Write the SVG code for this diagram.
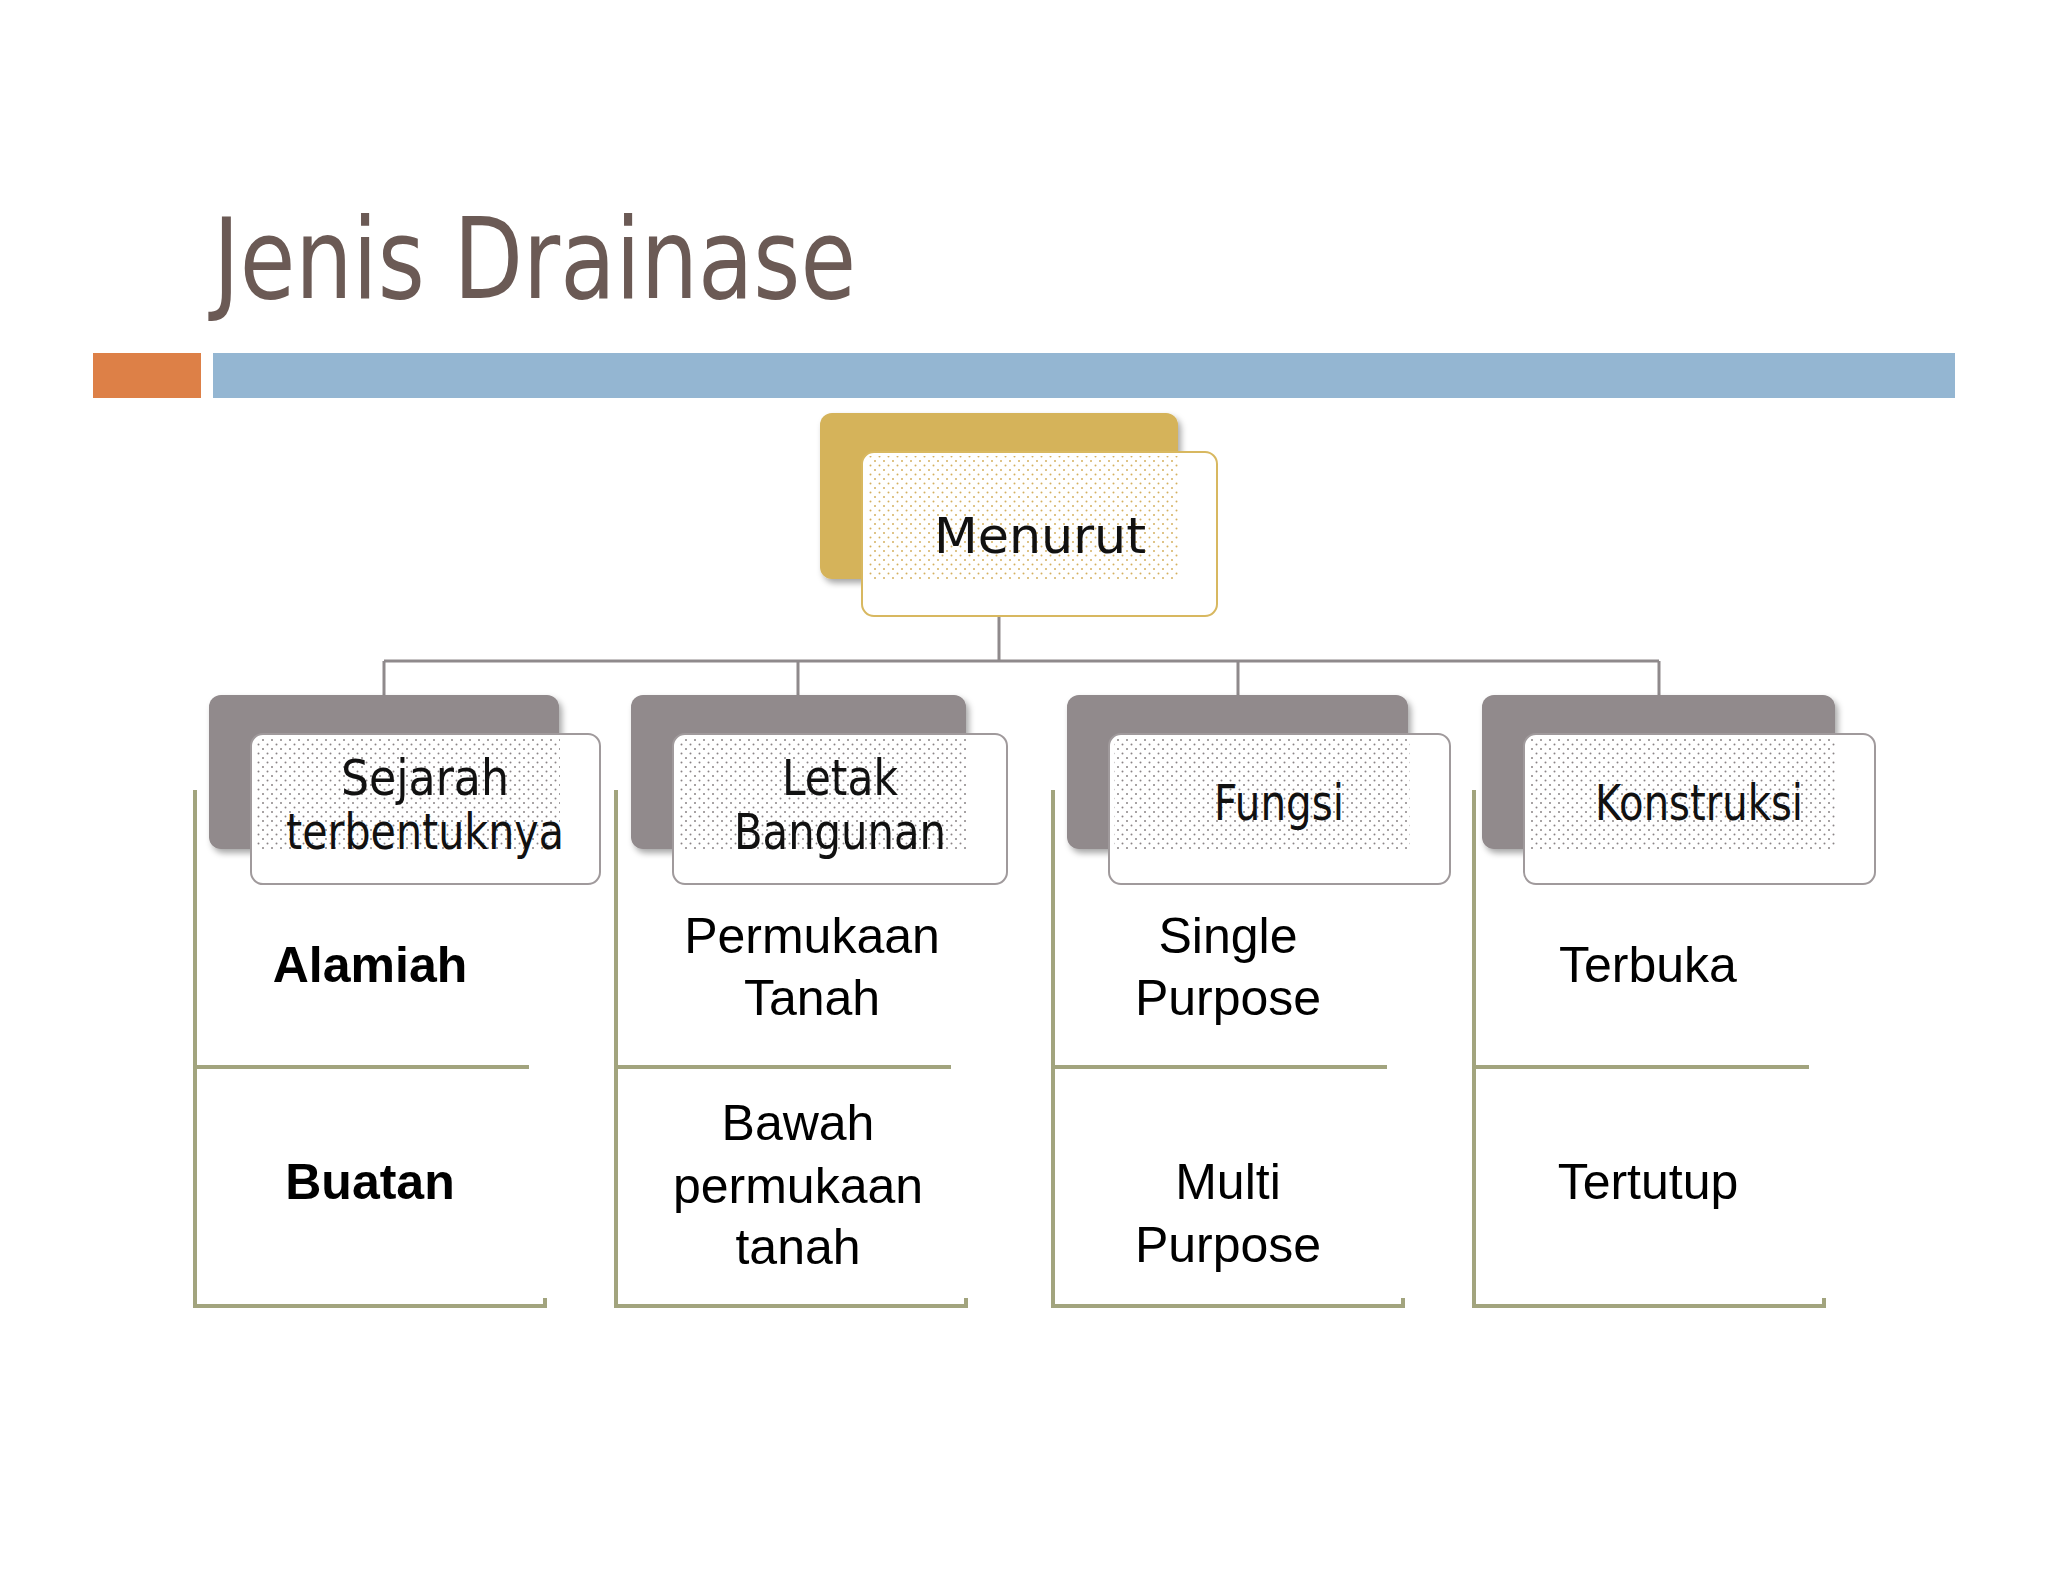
<svg xmlns="http://www.w3.org/2000/svg" width="2048" height="1582" viewBox="0 0 2048 1582">
<defs>
<pattern id="dg" width="9" height="9" patternUnits="userSpaceOnUse"><circle cx="2" cy="2" r="1" fill="#8a8486"/><circle cx="6.5" cy="6.5" r="1" fill="#8a8486"/></pattern>
<pattern id="dy" width="9" height="9" patternUnits="userSpaceOnUse"><circle cx="2" cy="2" r="1" fill="#d4b060"/><circle cx="6.5" cy="6.5" r="1" fill="#d4b060"/></pattern>
<filter id="sh" x="-10%" y="-10%" width="130%" height="130%"><feDropShadow dx="3" dy="4" stdDeviation="3" flood-opacity="0.35"/></filter>
</defs>
<style>
.back{fill:#918a8c;filter:url(#sh)}
.front{fill:#fff;stroke:#a09a9c;stroke-width:2}
.lbl{font-family:"DejaVu Sans Condensed","DejaVu Sans",sans-serif;font-stretch:condensed;font-size:50px;fill:#111;text-anchor:middle}
.leaf{font-family:"Liberation Sans",Arial,sans-serif;font-size:50px;fill:#000;text-anchor:middle}
.b{font-weight:bold}
.br{fill:none;stroke:#a2a47e;stroke-width:4}
.con{fill:none;stroke:#8f8a8c;stroke-width:3}
</style>
<rect width="2048" height="1582" fill="#fff"/>
<text x="213" y="298" font-family="DejaVu Sans Condensed,DejaVu Sans,sans-serif" font-stretch="condensed" font-size="112" fill="#6b5a55" textLength="643" lengthAdjust="spacingAndGlyphs">Jenis Drainase</text>
<rect x="93" y="353" width="108" height="45" fill="#dd8047"/>
<rect x="213" y="353" width="1742" height="45" fill="#94b6d2"/>
<g id="connectors">
<path class="con" d="M999 616V661M384 661H1659M384 661V695M798 661V695M1238 661V695M1659 661V695"/>
</g>
<g id="menurut">
<rect x="820" y="413" width="358" height="166" rx="12" fill="#d5b35a" filter="url(#sh)"/>
<rect x="862" y="452" width="355" height="164" rx="12" fill="#fff" stroke="#d8b860" stroke-width="2"/>
<rect x="868" y="456" width="310" height="124" fill="url(#dy)"/>
<text x="1040" y="553" class="lbl" font-size="66" textLength="212" lengthAdjust="spacingAndGlyphs">Menurut</text>
</g>
<g id="sejarah">
<rect class="back" x="209" y="695" width="350" height="154" rx="12"/>
<rect class="front" x="251" y="734" width="349" height="150" rx="12"/>
<rect x="256" y="738" width="304" height="112" fill="url(#dg)"/>
<text class="lbl" x="425" y="795" font-size="48" textLength="168" lengthAdjust="spacingAndGlyphs">Sejarah</text>
<text class="lbl" x="425" y="849" font-size="48" textLength="278" lengthAdjust="spacingAndGlyphs">terbentuknya</text>
</g>
<g id="letak">
<rect class="back" x="631" y="695" width="335" height="154" rx="12"/>
<rect class="front" x="673" y="734" width="334" height="150" rx="12"/>
<rect x="678" y="738" width="290" height="112" fill="url(#dg)"/>
<text class="lbl" x="840" y="795" font-size="48" textLength="116" lengthAdjust="spacingAndGlyphs">Letak</text>
<text class="lbl" x="840" y="849" font-size="48" textLength="212" lengthAdjust="spacingAndGlyphs">Bangunan</text>
</g>
<g id="fungsi">
<rect class="back" x="1067" y="695" width="341" height="154" rx="12"/>
<rect class="front" x="1109" y="734" width="341" height="150" rx="12"/>
<rect x="1114" y="738" width="296" height="112" fill="url(#dg)"/>
<text class="lbl" x="1279" y="820" textLength="130" lengthAdjust="spacingAndGlyphs">Fungsi</text>
</g>
<g id="konstruksi">
<rect class="back" x="1482" y="695" width="353" height="154" rx="12"/>
<rect class="front" x="1524" y="734" width="351" height="150" rx="12"/>
<rect x="1529" y="738" width="306" height="112" fill="url(#dg)"/>
<text class="lbl" x="1699" y="820" textLength="208" lengthAdjust="spacingAndGlyphs">Konstruksi</text>
</g>
<g id="brackets">
<path class="br" d="M195 790V1306H545V1298M195 1067H529"/>
<path class="br" d="M616 790V1306H966V1298M616 1067H951"/>
<path class="br" d="M1053 790V1306H1403V1298M1053 1067H1387"/>
<path class="br" d="M1474 790V1306H1824V1298M1474 1067H1809"/>
</g>
<g id="leaves">
<text class="leaf b" x="370" y="982">Alamiah</text>
<text class="leaf b" x="370" y="1199">Buatan</text>
<text class="leaf" x="812" y="953">Permukaan</text>
<text class="leaf" x="812" y="1015">Tanah</text>
<text class="leaf" x="798" y="1140">Bawah</text>
<text class="leaf" x="798" y="1203">permukaan</text>
<text class="leaf" x="798" y="1264">tanah</text>
<text class="leaf" x="1228" y="953">Single</text>
<text class="leaf" x="1228" y="1015">Purpose</text>
<text class="leaf" x="1228" y="1199">Multi</text>
<text class="leaf" x="1228" y="1262">Purpose</text>
<text class="leaf" x="1648" y="982">Terbuka</text>
<text class="leaf" x="1648" y="1199">Tertutup</text>
</g>
</svg>
